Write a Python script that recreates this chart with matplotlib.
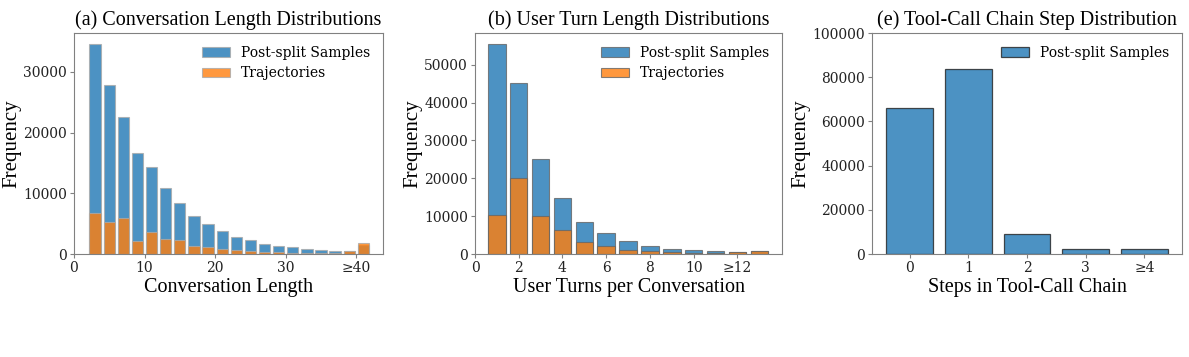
import matplotlib.pyplot as plt

# (a) conversation length, bins of 2, last bin is >=40
conv_len_centers = [3, 5, 7, 9, 11, 13, 15, 17, 19, 21, 23, 25, 27, 29, 31, 33, 35, 37, 39, 41]
conv_len_post = [34650, 27800, 22600, 16600, 14400, 10850, 8450, 6200, 4900, 3750,
                 2850, 2250, 1700, 1370, 1150, 880, 710, 550, 420, 1500]
conv_len_traj = [6800, 5200, 5900, 2150, 3550, 2400, 2250, 1300, 1100, 770,
                 600, 490, 330, 270, 160, 160, 110, 110, 490, 1800]
conv_len_ticks = [0, 10, 20, 30, 40]
conv_len_ticklabels = ['0', '10', '20', '30', '≥40']

# (b) user turns per conversation
turns = [1, 2, 3, 4, 5, 6, 7, 8, 9, 10, 11, 12, 13]
turns_post = [55600, 45200, 25000, 14900, 8550, 5450, 3350, 2200, 1400, 970, 700, 400, 700]
turns_traj = [10300, 20200, 10050, 6350, 3150, 2200, 1150, 800, 530, 350, 260, 440, 790]
turns_ticks = [0, 2, 4, 6, 8, 10, 12]
turns_ticklabels = ['0', '2', '4', '6', '8', '10', '≥12']

# (e) tool-call chain steps
steps = ['0', '1', '2', '3', '≥4']
steps_post = [66000, 83700, 9100, 2150, 2100]

blue = '#1f77b4'
orange = '#ff7f0e'
serif = 'Liberation Serif'
tick_font = 'DejaVu Serif'

fig = plt.figure(figsize=(11.89, 3.57), dpi=100)
ax_a = fig.add_axes([0.0622, 0.2885, 0.2599, 0.619])
ax_b = fig.add_axes([0.3995, 0.2885, 0.2582, 0.619])
ax_e = fig.add_axes([0.7334, 0.2885, 0.2607, 0.619])

#Plot the overlaid histograms for conversation length
ax_a.bar(conv_len_centers, conv_len_post, width=1.6, color=blue, alpha=0.8,
         edgecolor='#aaaaaa', linewidth=0.8, label='Post-split Samples')
ax_a.bar(conv_len_centers, conv_len_traj, width=1.6, color=orange, alpha=0.8,
         edgecolor='#aaaaaa', linewidth=0.8, label='Trajectories')
ax_a.set_xlim(left=0)
ax_a.set_xticks(conv_len_ticks)
ax_a.set_xticklabels(conv_len_ticklabels)
ax_a.set_title('(a) Conversation Length Distributions')
ax_a.set_xlabel('Conversation Length')
ax_a.set_ylabel('Frequency')

#Plot the overlaid histograms for user turns
ax_b.bar(turns, turns_post, width=0.8, color=blue, alpha=0.8,
         edgecolor='#666666', linewidth=0.8, label='Post-split Samples')
ax_b.bar(turns, turns_traj, width=0.8, color=orange, alpha=0.8,
         edgecolor='#666666', linewidth=0.8, label='Trajectories')
ax_b.set_xlim(left=0)
ax_b.set_xticks(turns_ticks)
ax_b.set_xticklabels(turns_ticklabels)
ax_b.set_title('(b) User Turn Length Distributions')
ax_b.set_xlabel('User Turns per Conversation')
ax_b.set_ylabel('Frequency')

#Plot the bar chart for tool-call chain steps
ax_e.bar(steps, steps_post, width=0.8, color=blue, alpha=0.8,
         edgecolor='#222222', linewidth=0.9, label='Post-split Samples')
ax_e.set_ylim(0, 100000)
ax_e.set_title('(e) Tool-Call Chain Step Distribution')
ax_e.set_xlabel('Steps in Tool-Call Chain')
ax_e.set_ylabel('Frequency')

for ax in [ax_a, ax_b, ax_e]:
    ax.title.set_fontfamily(serif)
    ax.title.set_fontsize(14.5)
    ax.xaxis.label.set_fontfamily(serif)
    ax.xaxis.label.set_fontsize(14.5)
    ax.yaxis.label.set_fontfamily(serif)
    ax.yaxis.label.set_fontsize(15)
    ax.xaxis.labelpad = 2
    ax.yaxis.labelpad = 1.5
    for lab in ax.get_xticklabels() + ax.get_yticklabels():
        lab.set_fontfamily(tick_font)
        lab.set_fontsize(10)
        lab.set_color('#222222')
    ax.tick_params(length=3, color='gray', pad=2)
    for sp in ax.spines.values():
        sp.set_color('gray')
    ax.legend(loc='upper right', frameon=False, prop={'family': tick_font, 'size': 10})

fig.savefig('out.png', dpi=100)
